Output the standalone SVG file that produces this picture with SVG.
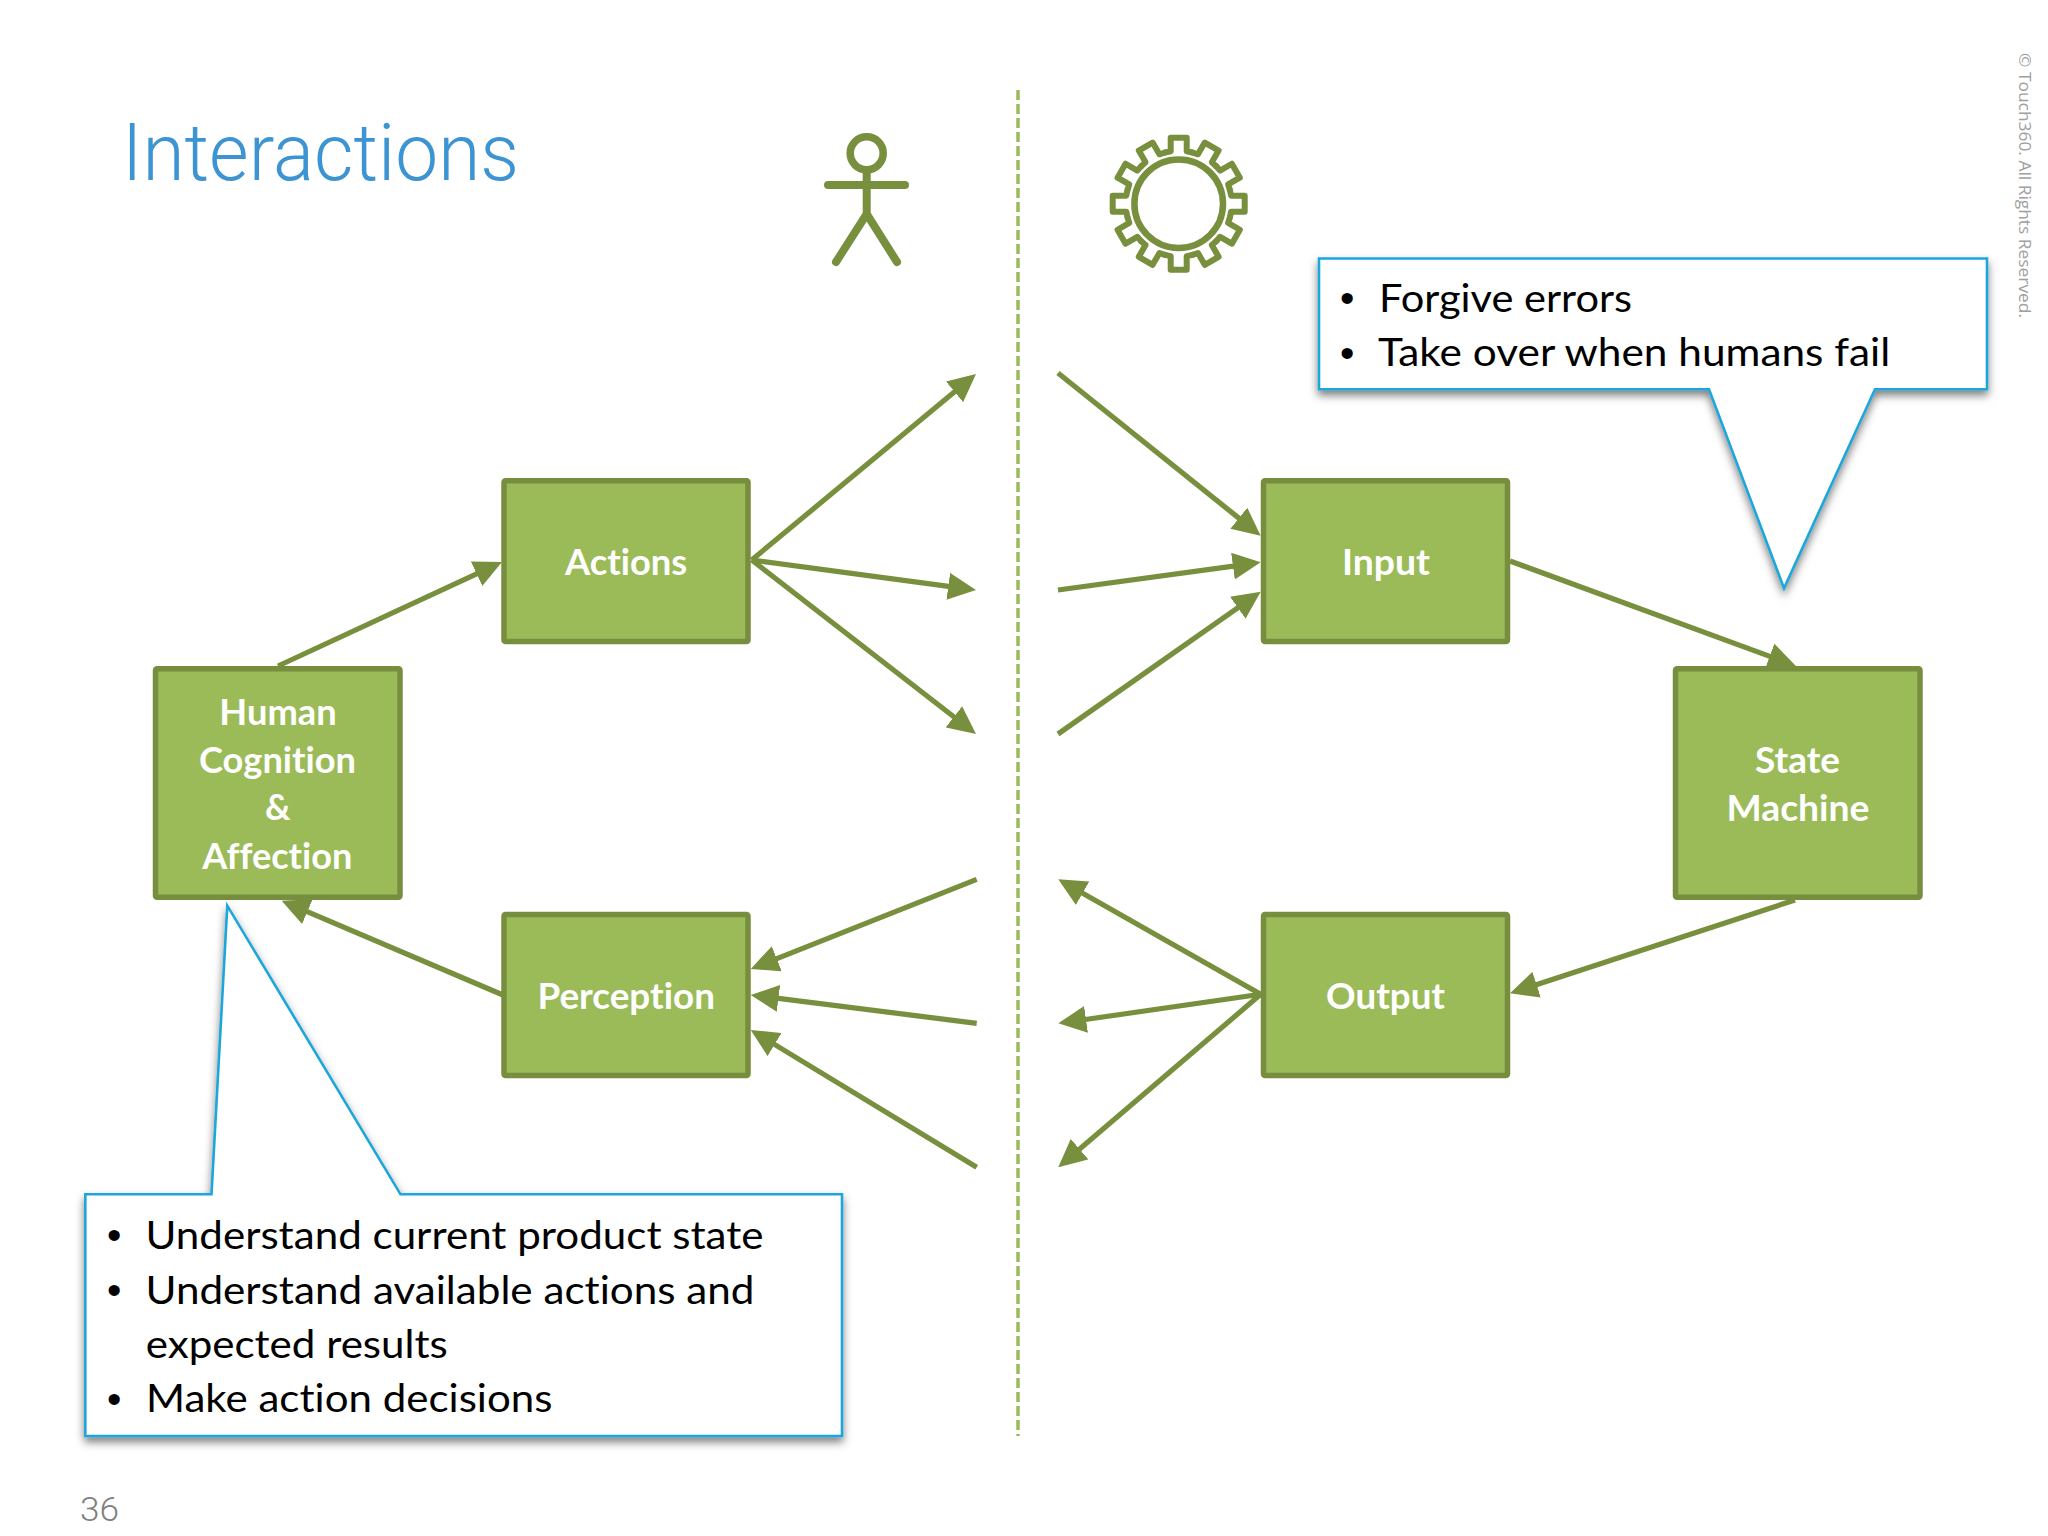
<svg xmlns="http://www.w3.org/2000/svg" xmlns:xlink="http://www.w3.org/1999/xlink" width="2048" height="1536" viewBox="0 0 2048 1536">
<style>
.box{fill:#9bbb59;stroke:#778e3e;stroke-width:5.5;stroke-linejoin:round}
.lbl{font-family:"Lato","Open Sans",sans-serif;font-weight:700;font-size:36px;fill:#ffffff;font-variant-ligatures:none}
.body{font-family:"Lato","Open Sans",sans-serif;font-size:39px;fill:#000000;font-variant-ligatures:none}
.dot{font-family:"Liberation Sans",sans-serif;font-size:41px;fill:#000000}
.callout{fill:#ffffff;stroke:#1ba6dc;stroke-width:2.6;stroke-linejoin:miter;filter:url(#sh)}
.conn line{stroke:#788f3e;stroke-width:5.2;marker-end:url(#ah)}
.ico{fill:none;stroke:#788f3e}
</style>
<defs>
<marker id="ah" markerUnits="userSpaceOnUse" markerWidth="28" markerHeight="27" refX="6" refY="13.5" orient="auto" viewBox="0 0 28 27"><path d="M0,0 L28,13.5 L0,27 Z" fill="#788f3e"/></marker>
<filter id="sh" x="-5%" y="-5%" width="110%" height="112%"><feDropShadow dx="0" dy="5" stdDeviation="4" flood-color="#000" flood-opacity="0.5"/></filter>
<path id="tooth" d="M-13.7,-51.2 L-8,-52.4 L-8,-66 L8,-66 L8,-52.4 L13.7,-51.2" fill="none" stroke="#788f3e" stroke-width="6" stroke-linejoin="round" stroke-linecap="round"/>
</defs>
<rect width="2048" height="1536" fill="#ffffff"/>
<text id="title" x="122" y="180" font-family="Roboto,'Liberation Sans',sans-serif" font-weight="300" font-size="80" fill="#3c94d2" textLength="397" lengthAdjust="spacingAndGlyphs">Interactions</text>
<text id="copyright" transform="translate(2018.5,53) rotate(90)" font-family="'Open Sans',sans-serif" font-size="17" fill="#a0a0a0" textLength="265" lengthAdjust="spacingAndGlyphs">© Touch360. All Rights Reserved.</text>
<text id="page" x="80" y="1521" font-family="Roboto,'Liberation Sans',sans-serif" font-weight="300" font-size="34" fill="#808080" textLength="39" lengthAdjust="spacingAndGlyphs">36</text>
<line id="divider" x1="1018" y1="90" x2="1018" y2="1436" stroke="#9bbb59" stroke-width="3.5" stroke-dasharray="10 4"/>
<g id="person-icon" class="ico" stroke-linecap="round" stroke-linejoin="round">
<circle cx="866.7" cy="153.3" r="16.5" stroke-width="7.6"/>
<path d="M866.7,170 V214 M828,185 H905 M866.7,214 L836,262 M866.7,214 L897,262" stroke-width="8"/>
</g>
<g id="gear-icon">
<circle class="ico" cx="1178.7" cy="203.7" r="44.3" stroke-width="6.5"/>
<g transform="translate(1178.7,203.7)">
<use xlink:href="#tooth"/><use xlink:href="#tooth" transform="rotate(30)"/><use xlink:href="#tooth" transform="rotate(60)"/><use xlink:href="#tooth" transform="rotate(90)"/><use xlink:href="#tooth" transform="rotate(120)"/><use xlink:href="#tooth" transform="rotate(150)"/><use xlink:href="#tooth" transform="rotate(180)"/><use xlink:href="#tooth" transform="rotate(210)"/><use xlink:href="#tooth" transform="rotate(240)"/><use xlink:href="#tooth" transform="rotate(270)"/><use xlink:href="#tooth" transform="rotate(300)"/><use xlink:href="#tooth" transform="rotate(330)"/>
</g>
</g>
<g id="connectors" class="conn">
<line x1="278" y1="666" x2="482" y2="571.3"/>
<line x1="503" y1="995" x2="301.9" y2="909.3"/>
<line x1="751.7" y1="560" x2="959.1" y2="388"/>
<line x1="751.7" y1="560" x2="954.2" y2="587.1"/>
<line x1="751.7" y1="560" x2="958.6" y2="720.5"/>
<line x1="1058" y1="373" x2="1243.5" y2="521.9"/>
<line x1="1058" y1="590" x2="1238.9" y2="565.3"/>
<line x1="1058" y1="734" x2="1242.7" y2="604.3"/>
<line x1="1510" y1="561" x2="1775.3" y2="658.4"/>
<line x1="1795" y1="900" x2="1530.9" y2="986.5"/>
<line x1="976.7" y1="879.3" x2="771.2" y2="960.9"/>
<line x1="976.7" y1="1023.3" x2="772.5" y2="997.7"/>
<line x1="976.7" y1="1167.3" x2="769.5" y2="1041.4"/>
<line x1="1260.7" y1="994.3" x2="1077.4" y2="890.2"/>
<line x1="1260.7" y1="994.3" x2="1080.1" y2="1020.2"/>
<line x1="1260.7" y1="994.3" x2="1075" y2="1153"/>
</g>
<g id="node-human">
<rect class="box" x="155.5" y="668.8" width="244.5" height="228.4" rx="1.5"/>
<text class="lbl" x="219.3" y="725" textLength="117.4" lengthAdjust="spacingAndGlyphs">Human</text>
<text class="lbl" x="199" y="773" textLength="157" lengthAdjust="spacingAndGlyphs">Cognition</text>
<text class="lbl" x="265" y="820" textLength="25.7" lengthAdjust="spacingAndGlyphs">&amp;</text>
<text class="lbl" x="202.3" y="869" textLength="150" lengthAdjust="spacingAndGlyphs">Affection</text>
</g>
<g id="node-actions">
<rect class="box" x="504" y="480.8" width="244" height="160.7" rx="1.5"/>
<text class="lbl" x="565" y="575" textLength="122.3" lengthAdjust="spacingAndGlyphs">Actions</text>
</g>
<g id="node-perception">
<rect class="box" x="504" y="914.5" width="244" height="161" rx="1.5"/>
<text class="lbl" x="537.5" y="1009" textLength="177.5" lengthAdjust="spacingAndGlyphs">Perception</text>
</g>
<g id="node-input">
<rect class="box" x="1263.5" y="480.8" width="244" height="160.7" rx="1.5"/>
<text class="lbl" x="1342" y="575" textLength="88" lengthAdjust="spacingAndGlyphs">Input</text>
</g>
<g id="node-output">
<rect class="box" x="1263.5" y="914.5" width="244" height="161" rx="1.5"/>
<text class="lbl" x="1326" y="1009" textLength="119" lengthAdjust="spacingAndGlyphs">Output</text>
</g>
<g id="node-state">
<rect class="box" x="1675.5" y="668.8" width="244.5" height="228.4" rx="1.5"/>
<text class="lbl" x="1755" y="772.7" textLength="85" lengthAdjust="spacingAndGlyphs">State</text>
<text class="lbl" x="1726.5" y="820.5" textLength="143" lengthAdjust="spacingAndGlyphs">Machine</text>
</g>
<g id="callout-top">
<path class="callout" d="M1319,258.5 H1987 V389.3 H1875 L1784,588.3 L1709,389.3 H1319 Z"/>
<text class="dot" x="1340" y="312">•</text>
<text class="body" x="1379" y="311.5" textLength="253" lengthAdjust="spacingAndGlyphs">Forgive errors</text>
<text class="dot" x="1340" y="366.5">•</text>
<text class="body" x="1378" y="366" textLength="512.3" lengthAdjust="spacingAndGlyphs">Take over when humans fail</text>
</g>
<g id="callout-bottom">
<path class="callout" d="M85.3,1194.3 H211.5 L227.3,905.7 L400.5,1194.3 H842 V1436 H85.3 Z"/>
<text class="dot" x="107" y="1249">•</text>
<text class="body" x="145.5" y="1248.5" textLength="618" lengthAdjust="spacingAndGlyphs">Understand current product state</text>
<text class="dot" x="107" y="1304">•</text>
<text class="body" x="145.5" y="1303.5" textLength="609" lengthAdjust="spacingAndGlyphs">Understand available actions and</text>
<text class="body" x="145.8" y="1357.7" textLength="302" lengthAdjust="spacingAndGlyphs">expected results</text>
<text class="dot" x="107" y="1412.5">•</text>
<text class="body" x="146" y="1412" textLength="406.5" lengthAdjust="spacingAndGlyphs">Make action decisions</text>
</g>
</svg>
